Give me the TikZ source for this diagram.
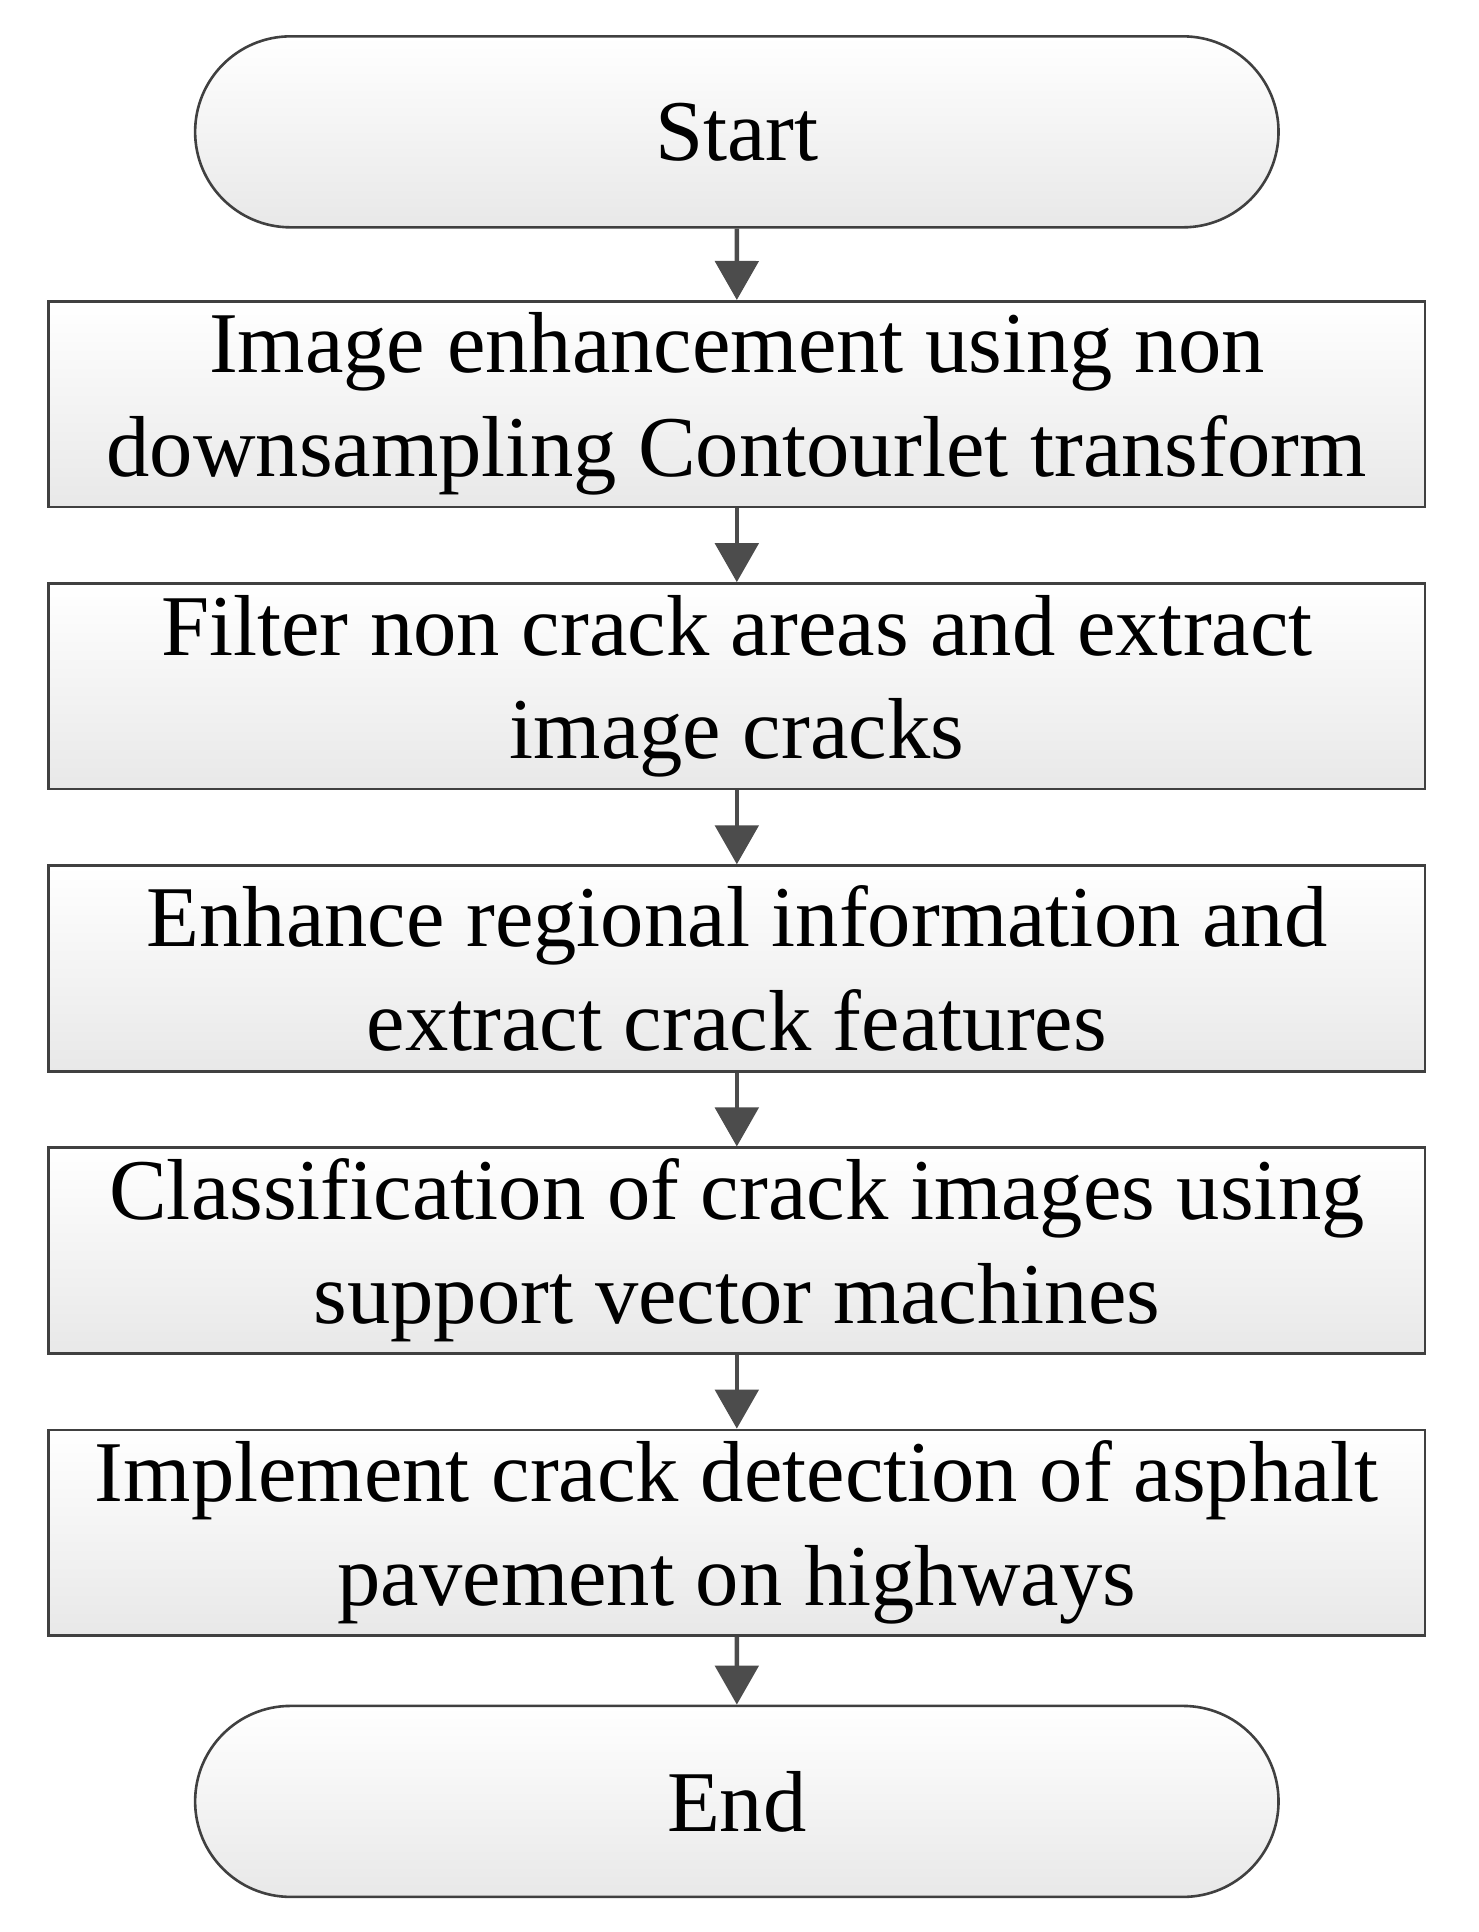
\documentclass[tikz,border=0pt]{standalone}
\usepackage{fontspec}
\setmainfont{Liberation Serif}
\usetikzlibrary{arrows.meta,shapes.misc}
\begin{document}
\begin{tikzpicture}[x=0.02cm,y=-0.02cm,
  boxstyle/.style={draw=black!75,line width=1.2pt,top color=white,bottom color=black!9,
    minimum width=1117*0.02cm,minimum height=167*0.02cm,align=center,inner sep=0pt,
    font=\fontsize{40}{48}\selectfont},
  termstyle/.style={draw=black!75,line width=1.2pt,rounded rectangle,top color=white,bottom color=black!9,
    minimum width=891*0.02cm,minimum height=155*0.02cm,font=\fontsize{40}{48}\selectfont},
  arr/.style={draw=black!70,line width=2pt,-{Triangle[length=18pt,width=20pt]}}]
\useasboundingbox (0,0) rectangle (1200,1568);
\node[termstyle] (start) at (598,107) {Start};
\node[boxstyle] (b1) at (598,328) {Image enhancement using non\\downsampling Contourlet transform};
\node[boxstyle] (b2) at (598,557) {Filter non crack areas and extract\\image cracks};
\node[boxstyle] (b3) at (598,786) {Enhance regional information and\\extract crack features};
\node[boxstyle] (b4) at (598,1015) {Classification of crack images using\\support vector machines};
\node[boxstyle] (b5) at (598,1244) {Implement crack detection of asphalt\\pavement on highways};
\node[termstyle] (end) at (598,1462) {End};
\draw[arr] (start) -- (b1);
\draw[arr] (b1) -- (b2);
\draw[arr] (b2) -- (b3);
\draw[arr] (b3) -- (b4);
\draw[arr] (b4) -- (b5);
\draw[arr] (b5) -- (end);
\end{tikzpicture}
\end{document}
